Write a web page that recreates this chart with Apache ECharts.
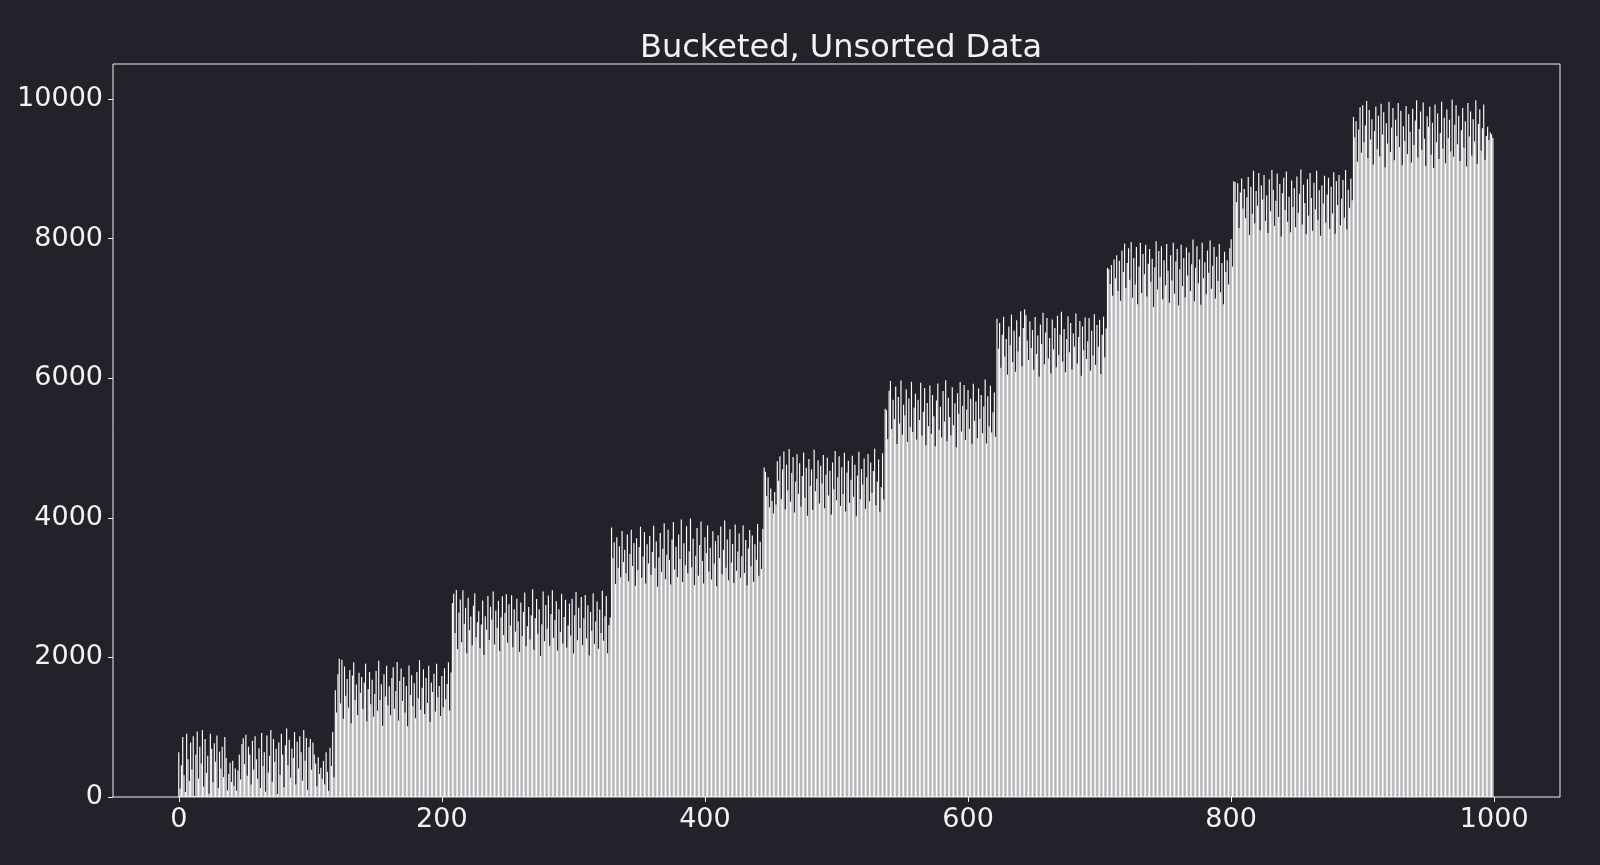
<!DOCTYPE html>
<html>
<head>
<meta charset="utf-8">
<title>Bucketed, Unsorted Data</title>
<script src="https://cdn.jsdelivr.net/npm/echarts@6/dist/echarts.min.js"></script>
<style>
  html, body { margin: 0; padding: 0; background: #24212a; }
  #main { width: 1600px; height: 865px; }
</style>
</head>
<body>
<div id="main"></div>
<script>
// values, one array per bucket, left to right
var bucket0 = [640,120,455,860,310,72,905,540,228,780, 395,870,15,610,940,265,720,480,960,150,
  830,345,590,45,905,690,210,770,505,880, 130,650,410,720,285,860,560,95,330,490,
  215,520,160,410,90,380,610,250,760,840, 470,890,305,720,610,180,805,395,870,540,
  260,700,130,915,445,640,75,880,350,590, 960,220,830,505,690,40,780,320,905,610,
  140,740,980,455,820,275,695,560,930,180, 790,410,870,640,235,960,520,845,105,715,
  830,390,780,610,480,155,570,330,420,260, 515,180,640,360,90,705,445,930,280];
var bucket1 = [1530,1210,1760,1980,1340,1965,1120,1870,1450,1690, 1280,1820,1055,1740,1930,1390,1610,1175,1780,1495,
  1720,1260,1640,1910,1080,1545,1790,1330,1680,1150, 1475,1805,1235,1950,1390,1615,1020,1760,1440,1880,
  1310,1585,1170,1705,1860,1265,1520,1935,1095,1660, 1840,1375,1720,1210,1590,1015,1885,1460,1745,1300,
  1630,1130,1790,1415,1960,1250,1565,1830,1190,1705, 1345,1880,1075,1640,1505,1765,1225,1910,1430,1590,
  1160,1735,1285,1845,1400,1620,1930,1240,1785];
var bucket2 = [2780,2910,2350,2965,2120,2640,2830,2215,2960,2480, 2710,2060,2855,2390,2585,2175,2740,2920,2290,2505,
  2660,2130,2470,2815,2035,2590,2395,2880,2250,2725, 2540,2945,2185,2670,2425,2810,2090,2575,2875,2320,
  2635,2905,2210,2760,2455,2890,2145,2690,2370,2840, 2515,2080,2785,2305,2650,2930,2160,2445,2720,2255,
  2605,2975,2110,2560,2835,2340,2690,2020,2475,2945, 2230,2750,2410,2885,2165,2620,2960,2280,2535,2805,
  2095,2690,2365,2910,2200,2580,2825,2140,2455,2770, 2315,2840,2055,2605,2935,2245,2710,2420,2865,2175,
  2560,2895,2270,2745,2030,2650,2380,2920,2190,2515, 2800,2125,2685,2350,2955,2240,2590,2880,2060,2460,
  2570];
var bucket3 = [3860,3420,3650,3050,3720,3280,3590,3150,3810,3365, 3540,3205,3760,3090,3480,3830,3310,3640,3025,3705,
  3255,3580,3870,3140,3445,3795,3060,3620,3345,3740, 3185,3510,3885,3275,3660,3010,3430,3780,3225,3555,
  3920,3120,3470,3830,3395,3045,3690,3940,3260,3585, 3150,3760,3410,3975,3080,3635,3320,3880,3205,3520,
  3990,3290,3700,3035,3455,3855,3170,3610,3945,3380, 3060,3720,3495,3890,3230,3570,3115,3805,3345,3665,
  3020,3750,3425,3875,3190,3540,3960,3285,3690,3105, 3835,3360,3625,3070,3905,3240,3515,3775,3140,3450,
  3890,3210,3680,3030,3560,3825,3305,3745,3085,3620, 3400,3910,3170,3655,3265,3840];
var bucket4 = [4720,4660,4310,4580,4150,4420,4240,4060,4370,4190, 4810,4530,4880,4270,4690,4950,4120,4760,4395,4985,
  4230,4640,4870,4075,4520,4910,4345,4780,4160,4600, 4935,4285,4715,4030,4840,4455,4690,4110,4975,4380,
  4560,4825,4205,4745,4490,4900,4135,4615,4860,4320, 4675,4045,4790,4410,4955,4250,4580,4880,4170,4725,
  4340,4930,4090,4650,4815,4215,4545,4890,4300,4760, 4020,4605,4945,4265,4700,4475,4850,4125,4580,4915,
  4235,4790,4360,4670,4990,4180,4520,4835,4085,4440, 4925,4260];
var bucket5 = [5560,5540,5130,5820,5960,5270,5690,5410,5880,5055, 5730,5350,5965,5190,5620,5470,5840,5085,5710,5300,
  5950,5230,5580,5775,5120,5690,5400,5935,5180,5520, 5860,5040,5645,5310,5895,5205,5760,5455,5025,5680,
  5925,5260,5590,5150,5815,5380,5970,5095,5720,5440, 5180,5870,5325,5640,5010,5785,5490,5945,5235,5605,
  5900,5115,5550,5830,5275,5705,5060,5920,5390,5665, 5140,5850,5420,5760,5210,5595,5980,5065,5740,5310,
  5890,5220,5510,5795,5160];
var bucket6 = [6850,6420,6790,6150,6620,6880,6310,6560,6050,6740, 6470,6910,6230,6680,6090,6830,6380,6595,6960,6170,
  6720,6985,6905,6540,6260,6810,6430,6690,6120,6875, 6345,6610,6020,6770,6490,6935,6200,6655,6860,6280,
  6575,6065,6840,6410,6720,6155,6895,6330,6625,6950, 6240,6705,6085,6560,6885,6370,6790,6125,6640,6455,
  6925,6210,6590,6820,6035,6740,6400,6870,6275,6530, 6860,6105,6680,6325,6915,6190,6760,6450,6835,6060,
  6620,6880,6295,6710];
var bucket7 = [7580,7560,7350,7620,7180,7700,7430,7760,7250,7680, 7110,7830,7520,7930,7290,7650,7860,7410,7950,7150,
  7720,7340,7880,7060,7600,7940,7220,7780,7490,7910, 7170,7640,7850,7380,7710,7020,7590,7960,7270,7820,
  7450,7890,7130,7690,7330,7920,7540,7080,7760,7400, 7940,7210,7670,7850,7040,7560,7910,7320,7720,7160,
  7870,7470,7800,7250,7630,7985,7100,7580,7890,7360, 7700,7050,7940,7430,7660,7200,7830,7510,7970,7280,
  7610,7880,7140,7740,7390,7920,7230,7650,7060,7810, 7520,7690,7340,7860,7990,7600];
var bucket8 = [8820,8810,8520,8790,8150,8660,8860,8430,8710,8290, 8590,8880,8050,8740,8350,8970,8220,8680,8470,8940,
  8120,8760,8560,8910,8250,8620,8080,8850,8390,8980, 8700,8180,8540,8930,8310,8780,8030,8650,8870,8410,
  8960,8240,8600,8090,8830,8450,8720,8160,8890,8370, 8640,8990,8200,8770,8510,8060,8850,8330,8940,8580,
  8110,8800,8420,8970,8270,8690,8040,8760,8500,8900, 8230,8630,8870,8140,8740,8360,8950,8070,8820,8480,
  8910,8190,8570,8840,8300,8980,8130,8700,8440,8860, 8550];
var bucket9 = [9740,9450,9680,9100,9560,9880,9230,9910,9380,9620, 9970,9150,9840,9420,9710,9060,9540,9890,9280,9760,
  9180,9930,9490,9810,9020,9650,9360,9960,9240,9590, 9870,9120,9700,9470,9940,9310,9830,9050,9610,9400,
  9900,9210,9780,9530,9090,9860,9340,9690,9980,9160, 9570,9820,9270,9950,9430,9040,9750,9600,9890,9200,
  9660,9010,9920,9380,9790,9140,9510,9960,9290,9730, 9080,9850,9440,9700,9250,9990,9170,9630,9910,9350,
  9760,9110,9550,9870,9300,9680,9030,9940,9460,9820, 9190,9710,9390,9980,9070,9640,9850,9260,9580,9920,
  9130,9470,9600,9410,9520,9490,9440];

var xTicks = [0, 200, 400, 600, 800, 1000];
var yTicks = [0, 2000, 4000, 6000, 8000, 10000];

var values = [].concat(bucket0, bucket1, bucket2, bucket3, bucket4,
                       bucket5, bucket6, bucket7, bucket8, bucket9);
var barData = values.map(function (v, i) { return [i, v]; });

var fg = '#f2f2f2';
var plain = function (v) { return String(v); };

var chart = echarts.init(document.getElementById('main'));
chart.setOption({
  backgroundColor: '#24212a',
  animation: false,
  title: {
    text: 'Bucketed, Unsorted Data',
    left: 836, textAlign: 'center', top: 28,
    textStyle: { color: fg, fontFamily: 'DejaVu Sans', fontSize: 32, fontWeight: 'normal' }
  },
  grid: {
    left: 113, right: 40, top: 64, bottom: 68,
    show: true, borderColor: '#f0f0f0', borderWidth: 1, backgroundColor: 'transparent'
  },
  xAxis: {
    type: 'value', min: -50, max: 1050,
    splitLine: { show: false },
    axisLine: { show: false, onZero: false },
    axisTick: { show: true, length: 5, lineStyle: { color: fg }, customValues: xTicks },
    axisLabel: { color: fg, fontFamily: 'DejaVu Sans', fontSize: 27, margin: 9,
                 customValues: xTicks, formatter: plain }
  },
  yAxis: {
    type: 'value', min: 0, max: 10500,
    splitLine: { show: false },
    axisLine: { show: false, onZero: false },
    axisTick: { show: true, length: 5, lineStyle: { color: fg }, customValues: yTicks },
    axisLabel: { color: fg, fontFamily: 'DejaVu Sans', fontSize: 27, margin: 10,
                 customValues: yTicks, formatter: plain }
  },
  series: [{
    type: 'bar',
    data: barData,
    barWidth: 1.15,
    itemStyle: { color: '#ffffff' }
  }]
});
</script>
</body>
</html>
